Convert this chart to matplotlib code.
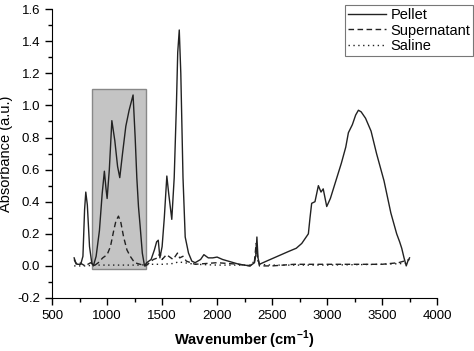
import matplotlib
matplotlib.use("Agg")
import matplotlib.pyplot as plt
from matplotlib.patches import Rectangle
from matplotlib.ticker import MultipleLocator

plt.rcParams['font.family'] = ['Liberation Sans', 'DejaVu Sans']

# spectra
pellet_x = [700, 715, 730, 760, 780, 795, 806, 820, 840, 860, 875, 900, 930, 955, 975,
            990, 1000, 1020, 1043, 1070, 1095, 1115, 1140, 1170, 1200, 1236, 1255, 1270,
            1285, 1300, 1320, 1340, 1360, 1400, 1430, 1450, 1465, 1480, 1500, 1520, 1543,
            1560, 1588, 1610, 1630, 1642, 1656, 1670, 1690, 1710, 1740, 1770, 1800, 1850,
            1880, 1920, 1960, 2000, 2050, 2100, 2200, 2300, 2340, 2355, 2362, 2372, 2385,
            2450, 2550, 2650, 2720, 2770, 2830, 2845, 2860, 2890, 2921, 2945, 2965, 2997, 3030,
            3080, 3130, 3170, 3194, 3230, 3260, 3285, 3310, 3350, 3400, 3450, 3518, 3580,
            3633, 3660, 3679, 3700, 3720, 3735, 3750]
pellet_y = [0.05, 0.02, 0.01, 0.01, 0.06, 0.35, 0.46, 0.38, 0.12, 0.02, 0.0, 0.06, 0.22, 0.45, 0.59,
            0.48, 0.42, 0.60, 0.905, 0.78, 0.62, 0.55, 0.70, 0.87, 0.97, 1.065, 0.80, 0.55,
            0.37, 0.25, 0.08, 0.0, 0.02, 0.04, 0.10, 0.15, 0.16, 0.05, 0.12, 0.30, 0.56,
            0.45, 0.29, 0.55, 1.00, 1.33, 1.47, 1.20, 0.55, 0.18, 0.08, 0.03, 0.02, 0.04,
            0.07, 0.05, 0.05, 0.055, 0.04, 0.03, 0.01, 0.0, 0.02, 0.08, 0.18, 0.05, 0.01,
            0.03, 0.06, 0.09, 0.11, 0.14, 0.20, 0.30, 0.39, 0.40, 0.50, 0.46, 0.48, 0.37, 0.42,
            0.53, 0.64, 0.74, 0.83, 0.88, 0.94, 0.97, 0.96, 0.92, 0.84, 0.70, 0.53, 0.33,
            0.20, 0.15, 0.11, 0.05, 0.0, 0.03, 0.05]

super_x = [700, 720, 750, 800, 850, 880, 920, 960, 1000, 1030, 1060, 1080, 1103, 1125,
           1150, 1180, 1210, 1250, 1300, 1350, 1420, 1460, 1480, 1500, 1540, 1600, 1640,
           1660, 1690, 1720, 1760, 1800, 2000, 2200, 2300, 2340, 2355, 2368, 2385, 2500,
           2700, 2900, 3100, 3300, 3500, 3650, 3700, 3750]
super_y = [0.04, 0.01, 0.02, 0.0, 0.02, 0.0, 0.02, 0.05, 0.07, 0.12, 0.22, 0.28, 0.31, 0.27,
           0.18, 0.10, 0.06, 0.02, 0.01, 0.0, 0.04, 0.05, 0.08, 0.04, 0.07, 0.04, 0.08,
           0.05, 0.06, 0.03, 0.02, 0.01, 0.02, 0.01, 0.0, 0.03, 0.14, 0.06, 0.0,
           0.0, 0.01, 0.01, 0.01, 0.01, 0.01, 0.02, 0.03, 0.04]

saline_x = [700, 800, 900, 1000, 1100, 1200, 1300, 1400, 1500, 1600, 1650, 1700, 1800,
            2000, 2200, 2300, 2340, 2358, 2375, 2500, 3000, 3500, 3700, 3750]
saline_y = [0.0, 0.0, 0.005, 0.005, 0.005, 0.005, 0.005, 0.01, 0.01, 0.015, 0.025, 0.02, 0.01,
            0.005, 0.005, 0.005, 0.03, 0.10, 0.01, 0.005, 0.005, 0.01, 0.015, 0.02]

box_x = (865, 1355)
box_y = (-0.02, 1.105)

fig = plt.figure(figsize=(4.74, 3.51), dpi=100)
ax = fig.add_axes([0.110, 0.151, 0.812, 0.823])

ax.add_patch(Rectangle((box_x[0], box_y[0]), box_x[1] - box_x[0], box_y[1] - box_y[0],
                       facecolor='#c4c4c4', edgecolor='#888888', lw=1.0, zorder=0))

ax.plot(pellet_x, pellet_y, color='#222222', lw=1.0, ls='-', label='Pellet')
ax.plot(super_x, super_y, color='#222222', lw=1.0, ls=(0, (4, 2.5)), label='Supernatant')
ax.plot(saline_x, saline_y, color='#222222', lw=1.0, ls=(0, (1, 2.5)), label='Saline')

ax.set_xlim(500, 4000)
ax.set_ylim(-0.2, 1.6)
ax.xaxis.set_major_locator(MultipleLocator(500))
ax.xaxis.set_minor_locator(MultipleLocator(250))
ax.yaxis.set_major_locator(MultipleLocator(0.2))
ax.yaxis.set_minor_locator(MultipleLocator(0.1))
ax.yaxis.set_major_formatter(plt.FuncFormatter(lambda v, p: f'{v:.1f}'))

for s in ['top', 'right']:
    ax.spines[s].set_visible(False)
ax.tick_params(which='both', direction='out', width=1, labelsize=9.5)
ax.tick_params(which='major', length=5)
ax.tick_params(which='minor', length=3)

ax.set_xlabel('Wavenumber (cm$^{\\mathregular{-1}}$)', fontsize=10.5, fontweight='bold', labelpad=5)
ax.set_ylabel('Absorbance (a.u.)', fontsize=10.5, labelpad=3)

leg = ax.legend(loc='upper right', bbox_to_anchor=(0.998, 0.986), bbox_transform=fig.transFigure,
                fontsize=10.5, frameon=True, fancybox=False, edgecolor='#555555',
                handlelength=2.6, handletextpad=0.3, borderpad=0.2, labelspacing=0.12,
                borderaxespad=0)
leg.get_frame().set_linewidth(0.8)

fig.savefig('out.png', dpi=100)
